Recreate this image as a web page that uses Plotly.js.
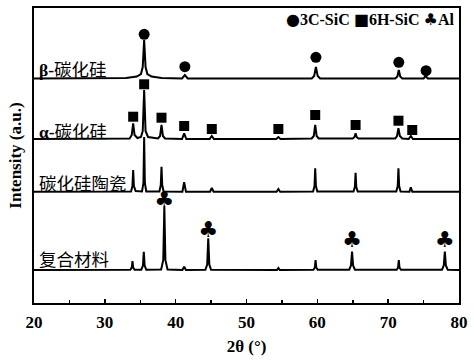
<!DOCTYPE html>
<html>
<head>
<meta charset="utf-8">
<script src="https://cdn.plot.ly/plotly-3.0.1.min.js"></script>
<style>html,body{margin:0;padding:0;background:#fff;}#chart{width:474px;height:360px;}</style>
</head>
<body>
<div id="chart"></div>
<script>
// XRD patterns (2θ in degrees, intensity in offset arbitrary units)
const betaX = [20, 33.0, 34.5, 35.1, 35.35, 35.55, 35.75, 36.0, 36.6, 38.0, 40.9, 41.3, 41.7, 59.2, 59.55, 59.8, 60.05, 60.4, 71.0, 71.3, 71.5, 71.7, 72.0, 75.0, 75.3, 75.6, 80];
const betaY = [224.5, 225, 226.5, 229, 236, 263, 236, 229, 226.5, 225, 224.5, 228, 224.5, 224.5, 227, 236, 227, 224.5, 224.5, 226.5, 233, 226.5, 224.5, 224.5, 227, 224.5, 224.5];

const alphaX = [20, 33.5, 33.8, 34.0, 34.2, 34.6, 35.1, 35.35, 35.55, 35.75, 36.1, 37.5, 37.8, 38.0, 38.2, 38.5, 40.9, 41.2, 41.5, 44.8, 45.1, 45.4, 54.2, 54.5, 54.8, 59.2, 59.5, 59.7, 59.9, 60.2, 65.0, 65.25, 65.4, 65.55, 65.8, 71.0, 71.25, 71.45, 71.65, 72.0, 72.9, 73.2, 73.5, 80];
const alphaY = [164, 164.5, 168, 179.7, 168, 165, 166, 172, 213, 172, 166, 164.5, 167, 178, 167, 164.5, 164, 169.7, 164, 164, 167, 164, 164, 166, 164, 164.5, 167, 178, 167, 164.5, 164.5, 166, 169.7, 166, 164.5, 164.5, 167, 174.7, 167, 164.5, 164, 167, 164, 164];

const ceramicX = [20, 33.7, 33.9, 34.0, 34.1, 34.35, 35.25, 35.45, 35.55, 35.65, 35.85, 37.7, 37.9, 38.0, 38.1, 38.3, 40.95, 41.2, 41.45, 44.85, 45.1, 45.35, 54.25, 54.5, 54.75, 59.4, 59.6, 59.7, 59.8, 60.0, 65.1, 65.3, 65.4, 65.5, 65.7, 71.15, 71.35, 71.45, 71.55, 71.75, 73.0, 73.2, 73.4, 80];
const ceramicY = [111.3, 111.5, 117, 133, 117, 112, 111.5, 120, 166, 120, 111.5, 111.5, 118, 136.3, 118, 111.5, 111.3, 120.7, 111.3, 111.3, 115, 111.3, 111.3, 114, 111.3, 111.5, 117, 134.7, 117, 111.5, 111.5, 116, 130.3, 116, 111.5, 111.5, 117, 134.7, 117, 111.5, 111.3, 115.7, 111.3, 111.3];

const compositeX = [20, 33.6, 33.8, 33.9, 34.0, 34.2, 35.15, 35.38, 35.5, 35.62, 35.85, 37.95, 38.25, 38.4, 38.55, 38.85, 40.95, 41.2, 41.45, 44.2, 44.45, 44.6, 44.75, 45.0, 54.3, 54.5, 54.7, 59.45, 59.65, 59.75, 59.85, 60.05, 64.5, 64.75, 64.9, 65.05, 65.3, 71.2, 71.4, 71.5, 71.6, 71.8, 77.6, 77.85, 78.0, 78.15, 78.4, 80];
const compositeY = [33, 33.3, 35.5, 42, 35.5, 33.3, 33.3, 37.5, 51.3, 37.5, 33.3, 33.5, 43, 96.3, 43, 33.5, 33, 36.3, 33, 33.3, 38.5, 64.7, 38.5, 33.3, 33, 35, 33, 33.3, 35.5, 43, 35.5, 33.3, 33.3, 37.5, 51.3, 37.5, 33.3, 33.3, 35.5, 43, 35.5, 33.3, 33.3, 37.5, 51.3, 37.5, 33.3, 33];

// Phase markers
const sic3cX = [35.55, 41.3, 59.8, 71.5, 75.35];
const sic3cY = [268.7, 236.3, 245.7, 240.7, 232.3];
const sic6hX = [34.0, 35.55, 38.0, 41.2, 45.1, 54.5, 59.7, 65.4, 71.45, 73.4];
const sic6hY = [186.3, 218.7, 185.3, 177, 174, 174, 188, 178, 182.3, 173];
const alX = [38.4, 44.6, 64.9, 78.0];
const alY = [101.3, 71.3, 61.3, 61.3];

// Labels
const sampleLabels = ["<span style='font-family:Liberation Serif;font-weight:bold'>β-</span>碳化硅",
                      "<span style='font-family:Liberation Serif;font-weight:bold'>α-</span>碳化硅",
                      "碳化硅陶瓷", "复合材料"];
const sampleLabelY = [235, 173, 121, 45];
const xTickVals = [20, 30, 40, 50, 60, 70, 80];
const xTickText = ["20", "30", "40", "50", "60", "70", "80"];

const lineStyle = {color: '#000', width: 2};
const traces = [
  {x: betaX, y: betaY, mode: 'lines', line: lineStyle, hoverinfo: 'skip'},
  {x: alphaX, y: alphaY, mode: 'lines', line: lineStyle, hoverinfo: 'skip'},
  {x: ceramicX, y: ceramicY, mode: 'lines', line: lineStyle, hoverinfo: 'skip'},
  {x: compositeX, y: compositeY, mode: 'lines', line: lineStyle, hoverinfo: 'skip'},
  {x: sic3cX, y: sic3cY, mode: 'markers', marker: {symbol: 'circle', size: 11, color: '#000'}},
  {x: sic6hX, y: sic6hY, mode: 'markers', marker: {symbol: 'square', size: 10, color: '#000'}},
  {x: alX, y: alY, mode: 'text', text: alX.map(() => '♣'), textposition: 'middle center',
   textfont: {family: 'DejaVu Sans', size: 22, color: '#000'}}
];

const annotations = sampleLabels.map((t, i) => ({
  x: 20.42, y: sampleLabelY[i], xref: 'x', yref: 'y', xanchor: 'left', yanchor: 'middle',
  text: t, showarrow: false,
  font: {family: 'Noto Sans CJK SC', size: 17.5, color: '#000'}
}));
annotations.push({
  x: 79.6, y: 284, xref: 'x', yref: 'y', xanchor: 'right', yanchor: 'middle', showarrow: false,
  text: "<b><span style='font-family:DejaVu Sans'>●</span>3C-SiC <span style='font-family:DejaVu Sans'>■</span>6H-SiC <span style='font-family:DejaVu Sans'>♣</span>Al</b>",
  font: {family: 'Liberation Serif', size: 16, color: '#000'}
});

const layout = {
  width: 474, height: 360,
  margin: {l: 34, r: 15, t: 8, b: 57},
  paper_bgcolor: '#fff', plot_bgcolor: '#fff',
  showlegend: false,
  xaxis: {
    range: [20, 80], tickvals: xTickVals, ticktext: xTickText.map(t => '<b>' + t + '</b>'),
    ticks: 'inside', ticklen: 4, tickwidth: 1.5, tickcolor: '#000',
    minor: {dtick: 5, ticks: 'inside', ticklen: 3, tickwidth: 1.5, tickcolor: '#000'},
    showline: true, linewidth: 2, linecolor: '#000', mirror: true,
    showgrid: false, zeroline: false, ticklabelstandoff: 3,
    tickfont: {family: 'Liberation Serif', size: 17, color: '#000'},
    title: {text: '<b>2θ (°)</b>', font: {family: 'Liberation Serif', size: 17, color: '#000'}, standoff: 9}
  },
  yaxis: {
    range: [0, 295], showticklabels: false, ticks: '',
    showline: true, linewidth: 2, linecolor: '#000', mirror: true,
    showgrid: false, zeroline: false,
    title: {text: '<b>Intensity (a.u.)</b>', font: {family: 'Liberation Serif', size: 17, color: '#000'}, standoff: 6}
  },
  annotations: annotations
};

Plotly.newPlot('chart', traces, layout, {displayModeBar: false, staticPlot: true});
</script>
</body>
</html>
